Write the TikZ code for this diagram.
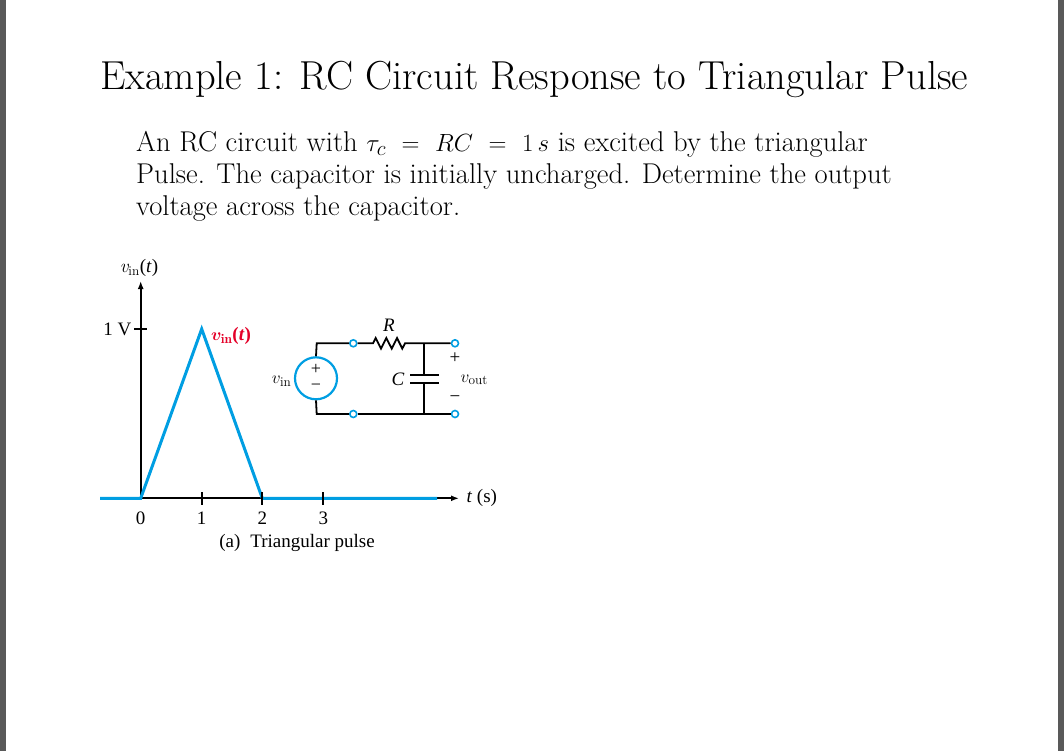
\documentclass[tikz,border=0pt]{standalone}
\usepackage{amsmath,bm}
\usepackage{fontspec}
\newfontfamily\tms{Liberation Serif}
\usetikzlibrary{arrows.meta}
\definecolor{cblue}{RGB}{0,158,226}
\definecolor{cred}{RGB}{228,0,40}
\begin{document}
\begin{tikzpicture}[x=1pt,y=-1pt,
  wire/.style={line width=1.8pt},
  term/.style={circle,draw=cblue,line width=1.6pt,fill=white,inner sep=0pt,minimum size=7pt},
  gl/.style={font=\tms\fontsize{19}{21}\selectfont}]
\useasboundingbox (0,0) rectangle (1064,751);
\fill[gray!70!black] (0,0) rectangle (6,751);
\fill[gray!70!black] (1058,0) rectangle (1064,751);
\node[anchor=base west,inner sep=0,font=\fontsize{40.5}{44}\selectfont] (title) at (100,90) {Example 1: RC Circuit Response to Triangular Pulse};
\node[anchor=north west,inner sep=0,align=left,font=\fontsize{28.6}{32}\selectfont] (para) at (136,131)
 {An RC circuit with $\tau_c\ =\ RC\ =\ 1\,s$ is excited by the triangular\\Pulse. The capacitor is initially uncharged. Determine the output\\voltage across the capacitor.};
% axes
\coordinate (o) at (140.7,498.3);
\coordinate (ytop) at (140.7,281);
\coordinate (xend) at (459,498.3);
\draw[wire,-{Latex[length=8pt,width=6pt]}] (o) -- (ytop);
\draw[wire,-{Latex[length=8pt,width=6pt]}] (o) -- (xend);
\draw[line width=3pt,cblue] (100,498.3) -- (o) -- (201.7,329) -- (262.3,498.3) -- (437,498.3);
\foreach \x/\l in {140.7/0,201.7/1,262.3/2,323.3/3}{
  \ifnum\l>0 \draw[wire] (\x,492) -- (\x,505);\fi
  \node[gl] (tk\l) at (\x,518) {\l};}
\draw[wire] (134,329) -- (147,329);
\node[gl,anchor=east] (onev) at (135,329) {1 V};
\node[gl] (vt) at (139,268) {$\mathit{v}_{\mathrm{in}}$(\textit{t})};
\node[gl,anchor=west] (ts) at (463,498) {\textit{t} (s)};
\node[gl] (cap) at (297,543) {(a)\; Triangular pulse};
\node[gl,text=cred,font=\tms\bfseries\fontsize{19}{21}\selectfont] (rv) at (231,336) {$\bm{v}_{\mathbf{in}}$(\textit{t})};
% circuit
\node[circle,draw=cblue,line width=2.2pt,minimum size=42pt,inner sep=0] (src) at (316,378.3) {};
\node[inner sep=0,font=\tms\fontsize{18}{18}\selectfont] (sp) at (316,369) {+};
\node[inner sep=0,font=\tms\fontsize{18}{18}\selectfont] (sm) at (316,387) {\textminus};
\node[gl,anchor=east] (vin) at (295,381) {$v_{\mathrm{in}}$};
\coordinate (tl) at (316.7,343.3);
\coordinate (bl) at (316.7,414);
\node[term] (t1) at (353.3,343.3) {};
\node[term] (t2) at (353.3,414) {};
\node[term] (t3) at (455,343.3) {};
\node[term] (t4) at (455,414) {};
\coordinate (ctop) at (424.3,343.3);
\coordinate (cbot) at (424.3,414);
\draw[wire] (src.north) -- (tl) -- (t1);
\draw[wire] (src.south) -- (bl) -- (t2);
\draw[wire] (t1) -- (373,343.3) -- (375.7,338) -- (381,348.6) -- (386.3,338) -- (391.7,348.6) -- (397,338) -- (402.3,348.6) -- (405,343.3) -- (t3);
\draw[wire] (t2) -- (t4);
\draw[wire] (ctop) -- (424.3,375) (424.3,382.7) -- (cbot);
\draw[line width=2.4pt] (410,375) -- (439,375) (410,382.7) -- (439,382.7);
\node[gl,font=\tms\itshape\fontsize{19}{21}\selectfont] (R) at (389,325) {R};
\node[gl,font=\tms\itshape\fontsize{19}{21}\selectfont] (C) at (398,379) {C};
\node[gl] (pl) at (455,358) {+};
\node[gl] (mi) at (455,399) {\textminus};
\node[gl,anchor=west] (vout) at (457,380) {$v_{\mathrm{out}}$};
\end{tikzpicture}
\end{document}
